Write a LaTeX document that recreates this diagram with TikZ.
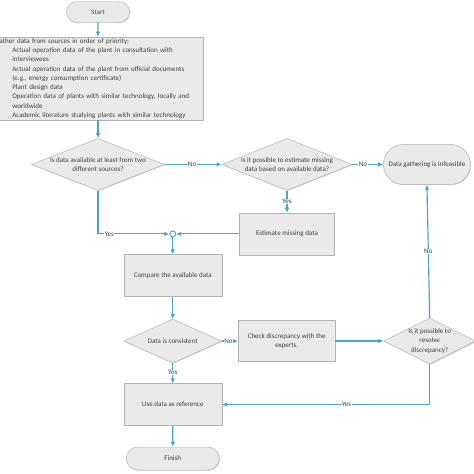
\documentclass[tikz,border=0pt]{standalone}
\usepackage{fontspec}
\setmainfont{Carlito}
\usepackage{xcolor}
\usepackage{tikz}
\usetikzlibrary{shapes.geometric, shapes.misc, arrows.meta, positioning, calc, shadows}

\definecolor{flowline}{RGB}{75,163,198}
\definecolor{boxfill}{RGB}{234,234,234}
\definecolor{boxline}{RGB}{178,178,178}
\definecolor{flowtext}{RGB}{64,64,64}

\begin{document}
\begin{tikzpicture}[
    font=\fontsize{6}{7.9}\selectfont,
    every node/.style={text=flowtext},
    block/.style={rectangle, draw=boxline, fill=boxfill, minimum width=2.94cm, minimum height=1.26cm, align=center, inner sep=0.06cm, drop shadow={shadow xshift=0.6pt, shadow yshift=-0.6pt, opacity=0.35}},
    terminal/.style={rounded rectangle, draw=boxline, fill=boxfill, minimum width=2.91cm, minimum height=0.69cm, align=center, inner sep=0.06cm, drop shadow={shadow xshift=0.6pt, shadow yshift=-0.6pt, opacity=0.35}},
    decision/.style={diamond, draw=boxline, fill=boxfill, inner sep=0pt, drop shadow={shadow xshift=0.6pt, shadow yshift=-0.6pt, opacity=0.35}},
    junction/.style={circle, draw=flowline, fill=white, line width=0.8pt, minimum size=0.18cm, inner sep=0pt},
    arrow/.style={-{Latex[length=1.5mm, width=1.4mm]}, flowline, line width=1pt},
    answer/.style={fill=white, inner sep=0.4pt}
]
\useasboundingbox (0,0) rectangle (14.22,-14.22);

% Gathering part
\node[terminal, minimum width=2.01cm, minimum height=0.63cm] (start) at (2.94,-0.36) {Start};
\node[block, below=0.42cm of start, minimum width=6.3cm, minimum height=2.49cm, text width=6.18cm, inner ysep=0.02cm, align=left] (gather) {Gather data from sources in order of priority:\\
\hspace*{0.52cm}Actual operation data of the plant in consultation with\\
\hspace*{0.52cm}interviewees\\
\hspace*{0.52cm}Actual operation data of the plant from official documents\\
\hspace*{0.52cm}(e.g., energy consumption certificate)\\
\hspace*{0.52cm}Plant design data\\
\hspace*{0.52cm}Operation data of plants with similar technology, locally and\\
\hspace*{0.52cm}worldwide\\
\hspace*{0.52cm}Academic literature studying plants with similar technology};
\node[decision, below=0.54cm of gather, minimum width=3.99cm, minimum height=1.56cm,
    label={[align=center]center:Is data available at least from two\\different sources?}] (twosrc) {};
\node[decision, right=1.71cm of twosrc, minimum width=3.9cm, minimum height=1.56cm,
    label={[align=center]center:Is it possible to estimate missing\\data based on available data?}] (canest) {};
\node[terminal, right=0.93cm of canest, minimum width=2.73cm, minimum height=1.2cm] (infeas) {Data gathering is infeasible};
\node[block, below=0.66cm of canest, minimum width=2.85cm] (estim) {Estimate missing data};
\node[junction, left=1.89cm of estim] (join) {};

% Checking part
\node[block, below=0.51cm of join] (compare) {Compare the available data};
\node[decision, below=0.66cm of compare, minimum width=2.94cm, minimum height=1.32cm,
    label={[align=center]center:Data is consistent}] (consist) {};
\node[block, right=0.48cm of consist, minimum width=2.91cm, minimum height=1.23cm] (check) {Check discrepancy with the\\experts.};
\node[decision, right=1.44cm of check, minimum width=2.76cm, minimum height=1.38cm,
    label={[align=center]center:Is it possible to\\resolve\\discrepancy?}] (resolve) {};
\node[block, below=0.6cm of consist] (useref) {Use data as reference};
\node[terminal, below=0.63cm of useref] (finish) {Finish};

\draw[arrow] (start) -- (gather);
\draw[arrow] (gather) -- (twosrc);
\draw[arrow] (twosrc.east) -- node[answer, pos=0.48] {No} (canest.west);
\draw[arrow] (canest.east) -- node[answer, pos=0.35] {No} (infeas.west);
\draw[arrow] (canest.south) -- node[answer] {Yes} (estim.north);
\draw[arrow] (twosrc.south) |- node[answer, pos=0.58] {Yes} (join.west);
\draw[arrow] (estim.west) -- (join.east);
\draw[arrow] (join) -- (compare);
\draw[arrow] (compare) -- (consist);
\draw[arrow] (consist.east) -- node[answer, pos=0.4] {No} (check.west);
\draw[arrow] (check.east) -- (resolve.west);
\draw[arrow] (resolve.north) -- node[answer] {No} (infeas.south);
\draw[arrow] (consist.south) -- node[answer, pos=0.45] {Yes} (useref.north);
\draw[arrow] (resolve.south) |- node[answer, pos=0.7] {Yes} (useref.east);
\draw[arrow] (useref) -- (finish);
\end{tikzpicture}
\end{document}
